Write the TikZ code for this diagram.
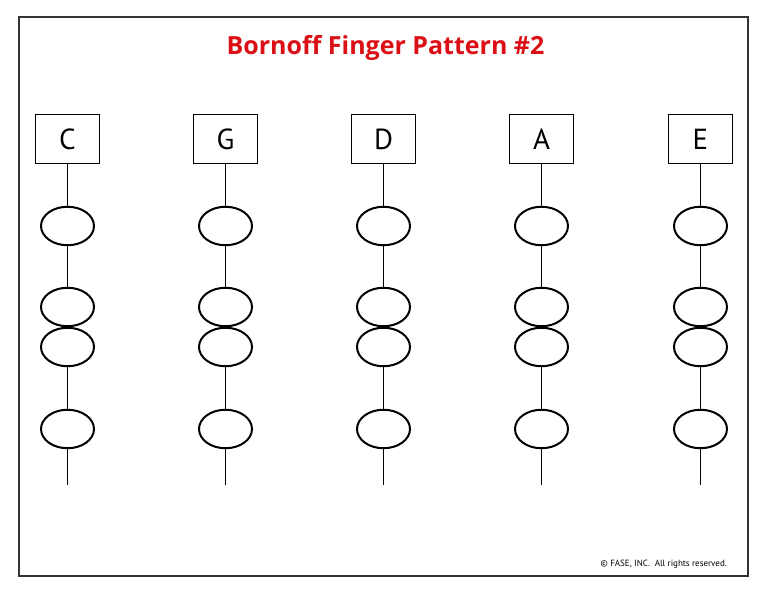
\documentclass[tikz,border=0pt]{standalone}
\usepackage{fontspec}
\setmainfont{PT Sans}
\newfontfamily\titlefont{Open Sans}
\usetikzlibrary{shapes.geometric}
\usetikzlibrary{positioning}
\definecolor{titlered}{RGB}{218,16,22}
\tikzset{stringbox/.style={draw=black, line width=1.5pt, minimum width=64pt, minimum height=49pt, inner sep=0pt, font=\fontsize{29}{30}\selectfont}}
\tikzset{finger/.style={draw=black, ellipse, line width=2pt, minimum width=53pt, minimum height=38.5pt, inner sep=0pt}}
\tikzset{stem/.style={line width=1.9pt}}
\newcommand{\dframe}{
    \draw[line width=1.3pt, draw=black!80] (19,17) rectangle (748,576);
}
\newcommand{\fstring}[3]{
    \node[stringbox] (#2) at (#1,139) {#3};
    \node[finger] (#21) at (#1,226) {};
    \node[finger] (#22) at (#1,307) {};
    \node[finger] (#23) at (#1,347) {};
    \node[finger] (#24) at (#1,429) {};
    \coordinate (#2end) at (#1,485);

    \draw[stem] (#2) -- (#21);
    \draw[stem] (#21) -- (#22);
    \draw[stem] (#23) -- (#24);
    \draw[stem] (#24) -- (#2end);
}

\begin{document}
\begin{tikzpicture}[x=1pt, y=-1pt]
        \useasboundingbox (0,0) rectangle (768,593);
        \dframe

        \node[text=titlered, font=\titlefont\bfseries\fontsize{25}{27}\selectfont] (title) at (385.5,48) {Bornoff Finger Pattern \#2};

        \fstring{67.5}{c}{C}
        \fstring{225.5}{g}{G}
        \fstring{383.5}{d}{D}
        \fstring{541.5}{a}{A}
        \fstring{700.5}{e}{E}

        \node[anchor=base east, font=\fontsize{9}{10}\selectfont, inner sep=0pt] (copy) at (727,566) {\textcopyright{} FASE, INC.\ \ All rights reserved.};
\end{tikzpicture}
\end{document}
